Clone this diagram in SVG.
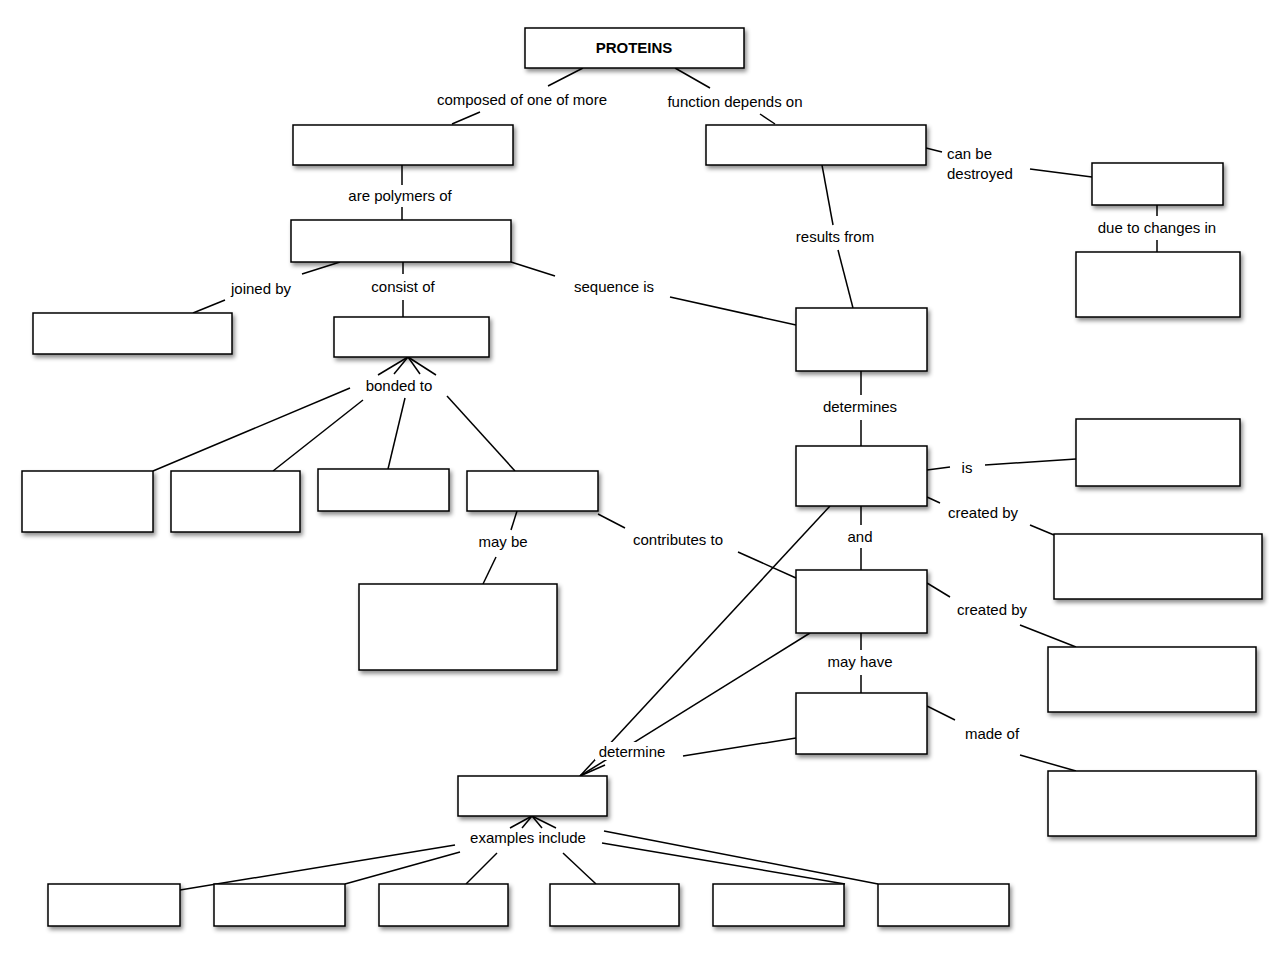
<svg xmlns="http://www.w3.org/2000/svg" width="1269" height="956" viewBox="0 0 1269 956">
<defs>
<filter id="sh" x="-10%" y="-10%" width="130%" height="140%"><feDropShadow dx="2" dy="3" stdDeviation="2" flood-color="#000" flood-opacity="0.45"/></filter>
<style>
.n rect{fill:#fff;stroke:#000;stroke-width:1.5;filter:url(#sh)}
.c line,.c polyline{stroke:#000;stroke-width:1.5;fill:none}
text{font-family:"Liberation Sans",Arial,sans-serif;font-size:15px;fill:#000;text-anchor:middle}
text.l{text-anchor:start}
</style>
</defs>
<rect width="1269" height="956" fill="#fff"/>
<g class="c">
<line x1="583" y1="68" x2="548" y2="86"/><line x1="480" y1="112" x2="452" y2="124"/>
<line x1="675" y1="68" x2="710" y2="88"/><line x1="760" y1="114" x2="775" y2="124"/>
<line x1="402" y1="165" x2="402" y2="185"/><line x1="402" y1="207" x2="402" y2="220"/>
<line x1="926" y1="148" x2="942" y2="152"/><line x1="1030" y1="169" x2="1092" y2="177"/>
<line x1="1157" y1="205" x2="1157" y2="216"/><line x1="1157" y1="240" x2="1157" y2="252"/>
<line x1="822" y1="165" x2="833" y2="225"/><line x1="838" y1="250" x2="853" y2="308"/>
<line x1="340" y1="262" x2="302" y2="274"/><line x1="225" y1="300" x2="193" y2="313"/>
<line x1="403" y1="262" x2="403" y2="274"/><line x1="403" y1="300" x2="403" y2="317"/>
<line x1="511" y1="262" x2="555" y2="276"/><line x1="670" y1="297" x2="796" y2="325"/>
<line x1="408" y1="357" x2="378" y2="375"/><line x1="408" y1="357" x2="394" y2="374"/><line x1="408" y1="357" x2="420" y2="374"/><line x1="408" y1="357" x2="436" y2="375"/>
<line x1="350" y1="388" x2="153" y2="471"/><line x1="363" y1="400" x2="273" y2="471"/><line x1="405" y1="398" x2="388" y2="469"/><line x1="447" y1="396" x2="515" y2="471"/>
<line x1="861" y1="371" x2="861" y2="395"/><line x1="861" y1="420" x2="861" y2="446"/>
<line x1="927" y1="470" x2="950" y2="467"/><line x1="985" y1="465" x2="1076" y2="459"/>
<line x1="927" y1="497" x2="940" y2="503"/><line x1="1030" y1="525" x2="1054" y2="535"/>
<line x1="861" y1="506" x2="861" y2="525"/><line x1="861" y1="548" x2="861" y2="570"/>
<line x1="598" y1="514" x2="625" y2="528"/><line x1="738" y1="552" x2="796" y2="578"/>
<line x1="517" y1="511" x2="511" y2="530"/><line x1="496" y1="557" x2="483" y2="584"/>
<line x1="830" y1="506" x2="580" y2="776"/>
<line x1="927" y1="583" x2="950" y2="597"/><line x1="1020" y1="625" x2="1076" y2="647"/>
<line x1="861" y1="633" x2="861" y2="650"/><line x1="861" y1="675" x2="861" y2="693"/>
<line x1="810" y1="633" x2="580" y2="776"/>
<line x1="927" y1="706" x2="955" y2="720"/><line x1="1020" y1="755" x2="1076" y2="771"/>
<line x1="796" y1="738" x2="683" y2="756"/><line x1="605" y1="765" x2="580" y2="776"/>
<line x1="532" y1="816" x2="510" y2="828"/><line x1="532" y1="816" x2="522" y2="828"/><line x1="532" y1="816" x2="542" y2="828"/><line x1="532" y1="816" x2="556" y2="828"/>
<line x1="455" y1="845" x2="180" y2="890"/><line x1="460" y1="852" x2="345" y2="884"/><line x1="497" y1="853" x2="466" y2="884"/><line x1="563" y1="853" x2="596" y2="884"/><line x1="602" y1="843" x2="845" y2="884"/><line x1="604" y1="831" x2="878" y2="884"/>
</g>
<g id="n0" class="n"><rect x="525" y="28" width="219" height="40"/><text x="634" y="53" font-weight="bold" font-size="14">PROTEINS</text></g>
<g id="n1" class="n"><rect x="293" y="125" width="220" height="40"/></g>
<g id="n2" class="n"><rect x="706" y="125" width="220" height="40"/></g>
<g id="n3" class="n"><rect x="1092" y="163" width="131" height="42"/></g>
<g id="n4" class="n"><rect x="291" y="220" width="220" height="42"/></g>
<g id="n5" class="n"><rect x="1076" y="252" width="164" height="65"/></g>
<g id="n6" class="n"><rect x="33" y="313" width="199" height="41"/></g>
<g id="n7" class="n"><rect x="334" y="317" width="155" height="40"/></g>
<g id="n8" class="n"><rect x="796" y="308" width="131" height="63"/></g>
<g id="n9" class="n"><rect x="22" y="471" width="131" height="61"/></g>
<g id="n10" class="n"><rect x="171" y="471" width="129" height="61"/></g>
<g id="n11" class="n"><rect x="318" y="469" width="131" height="42"/></g>
<g id="n12" class="n"><rect x="467" y="471" width="131" height="40"/></g>
<g id="n13" class="n"><rect x="796" y="446" width="131" height="60"/></g>
<g id="n14" class="n"><rect x="1076" y="419" width="164" height="67"/></g>
<g id="n15" class="n"><rect x="359" y="584" width="198" height="86"/></g>
<g id="n16" class="n"><rect x="796" y="570" width="131" height="63"/></g>
<g id="n17" class="n"><rect x="1054" y="534" width="208" height="65"/></g>
<g id="n18" class="n"><rect x="1048" y="647" width="208" height="65"/></g>
<g id="n19" class="n"><rect x="796" y="693" width="131" height="61"/></g>
<g id="n20" class="n"><rect x="1048" y="771" width="208" height="65"/></g>
<g id="n21" class="n"><rect x="458" y="776" width="149" height="40"/></g>
<g id="n22" class="n"><rect x="48" y="884" width="132" height="42"/></g>
<g id="n23" class="n"><rect x="214" y="884" width="131" height="42"/></g>
<g id="n24" class="n"><rect x="379" y="884" width="129" height="42"/></g>
<g id="n25" class="n"><rect x="550" y="884" width="129" height="42"/></g>
<g id="n26" class="n"><rect x="713" y="884" width="131" height="42"/></g>
<g id="n27" class="n"><rect x="878" y="884" width="131" height="42"/></g>
<g id="labels">
<text x="522" y="105">composed of one of more</text>
<text x="735" y="107">function depends on</text>
<text x="400" y="201">are polymers of</text>
<text class="l" x="947" y="159">can be</text>
<text class="l" x="947" y="179">destroyed</text>
<text x="1157" y="233">due to changes in</text>
<text x="835" y="242">results from</text>
<text x="261" y="294">joined by</text>
<text x="403" y="292">consist of</text>
<text x="614" y="292">sequence is</text>
<text x="399" y="391">bonded to</text>
<text x="860" y="412">determines</text>
<text x="967" y="473">is</text>
<text x="983" y="518">created by</text>
<text x="860" y="542">and</text>
<text x="678" y="545">contributes to</text>
<text x="503" y="547">may be</text>
<text x="992" y="615">created by</text>
<text x="860" y="667">may have</text>
<text x="992" y="739">made of</text>
<rect x="595" y="742" width="75" height="18" fill="#fff"/>
<text x="632" y="757">determine</text>
<text x="528" y="843">examples include</text>
</g>
</svg>
